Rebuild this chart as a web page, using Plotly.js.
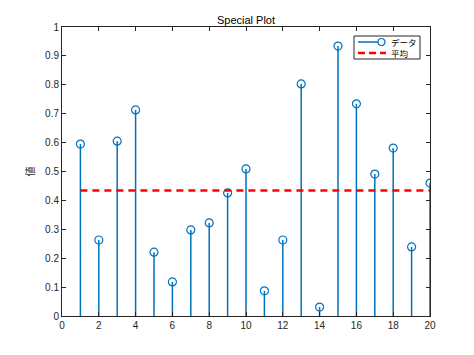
<!DOCTYPE html>
<html>
<head>
<meta charset="utf-8">
<script src="https://cdn.plot.ly/plotly-3.0.1.min.js"></script>
<style>html,body{margin:0;padding:0;background:#fff;}</style>
</head>
<body>
<div id="chart" style="width:474px;height:355px;"></div>
<script>
const xIndex = [1,2,3,4,5,6,7,8,9,10,11,12,13,14,15,16,17,18,19,20];
const values = [0.595,0.263,0.605,0.713,0.221,0.118,0.298,0.322,0.426,0.509,
                0.087,0.263,0.803,0.031,0.934,0.734,0.491,0.581,0.239,0.460];
const xTicks = [0,2,4,6,8,10,12,14,16,18,20];
const yTicks = [0,0.1,0.2,0.3,0.4,0.5,0.6,0.7,0.8,0.9,1];
const titleText = 'Special Plot';
const yLabel = '値';
const legendNames = ['データ','平均'];

const meanVal = values.reduce((a,b)=>a+b,0)/values.length;

const stemBlue = '#0072BD';
const axisColor = '#262626';
const fontFam = 'Liberation Sans, Arial, "Noto Sans CJK JP", sans-serif';

// stems built from data
const sx = [], sy = [];
xIndex.forEach((x,i)=>{ sx.push(x,x,null); sy.push(0,values[i],null); });

const traces = [
  {x: sx, y: sy, mode:'lines', line:{color:stemBlue, width:1.5}, showlegend:false, hoverinfo:'skip'},
  {x: xIndex, y: values, mode:'markers', name: legendNames[0],
   marker:{symbol:'circle-open', size:8, color:stemBlue, line:{width:1.2, color:stemBlue}}, showlegend:false},
  {x: [xIndex[0], xIndex[xIndex.length-1]], y:[meanVal, meanVal], mode:'lines', name: legendNames[1],
   line:{color:'#FF0000', width:2.5, dash:'7px,5px'}, showlegend:false}
];

// manual legend (MATLAB-style)
const L = 62, R = 430, T = 27, B = 316;
const px = v => (v - L)/(R - L);
const py = v => (B - v)/(B - T);
const row1 = 42, row2 = 53;

const shapes = [
  {type:'rect', xref:'paper', yref:'paper', x0:px(354), x1:px(420), y0:py(59), y1:py(36),
   line:{color:axisColor, width:1}, fillcolor:'#ffffff', layer:'above'},
  {type:'line', xref:'paper', yref:'paper', x0:px(358), x1:px(378), y0:py(row1), y1:py(row1),
   line:{color:stemBlue, width:1.5}, layer:'above'},
  {type:'circle', xref:'paper', yref:'paper', xsizemode:'pixel', ysizemode:'pixel',
   xanchor:px(381.5), yanchor:py(row1), x0:-3.5, x1:3.5, y0:-3.5, y1:3.5,
   line:{color:stemBlue, width:1.2}, fillcolor:'rgba(0,0,0,0)', layer:'above'},
  {type:'line', xref:'paper', yref:'paper', x0:px(358), x1:px(386), y0:py(row2), y1:py(row2),
   line:{color:'#FF0000', width:2.5, dash:'7px,4px'}, layer:'above'}
];
const annotations = [
  {xref:'paper', yref:'paper', x:px(390), y:py((row1+row2)/2), xanchor:'left', yanchor:'middle',
   align:'left', showarrow:false, borderpad:0,
   text:legendNames[0] + '<br>' + legendNames[1],
   font:{family:'"Noto Sans CJK JP", sans-serif', size:8.5, color:'#000'}}
];

const layout = {
  width:474, height:355,
  margin:{l:62, r:44, t:27, b:39, pad:0},
  paper_bgcolor:'#ffffff', plot_bgcolor:'#ffffff',
  showlegend:false,
  font:{family:fontFam, size:10, color:axisColor},
  title:{text:titleText, x:0.5, xref:'paper', y:1, yref:'paper', yanchor:'bottom', pad:{b:3},
         font:{family:fontFam, size:11, color:'#000'}},
  xaxis:{range:[0,20], tickvals:xTicks, ticktext:xTicks.map(String), ticks:'inside', ticklen:4,
         tickcolor:axisColor, showline:true, linecolor:axisColor, linewidth:1, mirror:'ticks',
         showgrid:false, zeroline:false, fixedrange:true, automargin:false},
  yaxis:{range:[0,1], tickvals:yTicks, ticktext:yTicks.map(v=>String(v)), ticks:'inside', ticklen:4,
         tickcolor:axisColor, showline:true, linecolor:axisColor, linewidth:1, mirror:'ticks',
         showgrid:false, zeroline:false, fixedrange:true, automargin:false,
         title:{text:yLabel, standoff:8, font:{family:'"Noto Sans CJK JP", sans-serif', size:10, color:axisColor}}},
  shapes:shapes,
  annotations:annotations
};

Plotly.newPlot('chart', traces, layout, {displayModeBar:false, staticPlot:true});
</script>
</body>
</html>
